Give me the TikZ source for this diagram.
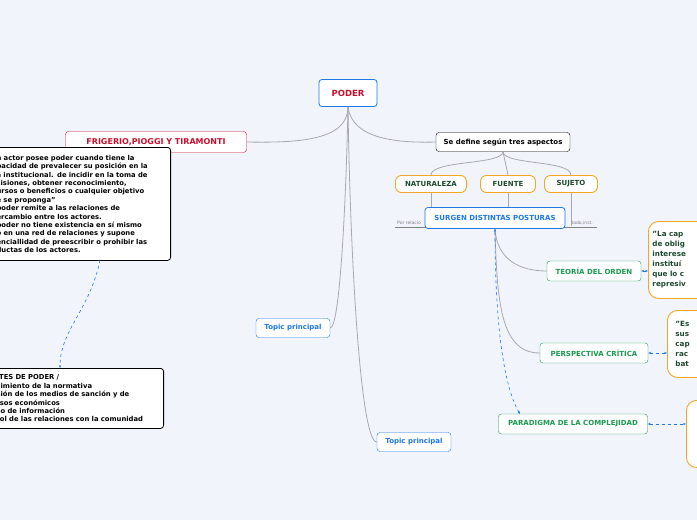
\documentclass[tikz,border=0pt]{standalone}
\usepackage{fontspec}
\setmainfont{DejaVu Sans}
\usetikzlibrary{arrows.meta}
\definecolor{bg}{HTML}{F2F4FC}
\definecolor{pblue}{HTML}{1E78E6}
\definecolor{pred}{HTML}{C8102E}
\definecolor{porange}{HTML}{F5A623}
\definecolor{pgreen}{HTML}{1A9A50}
\definecolor{dgreen}{HTML}{1E4A30}
\definecolor{lgrey}{HTML}{A8A8B0}
\begin{document}
\begin{tikzpicture}[x=1pt,y=-1pt,
 box/.style={draw,rounded corners=3pt,fill=white,font=\fontsize{7}{8}\selectfont\bfseries,inner sep=0pt},
 conn/.style={lgrey,line width=0.8pt},
 dconn/.style={pblue,dashed,line width=0.6pt,-{Stealth[length=3pt]}},
 dboth/.style={pblue,dashed,line width=0.6pt,{Stealth[length=3pt]}-{Stealth[length=3pt]}}]
\useasboundingbox[fill=bg] (0,0) rectangle (697,520);
\begin{scope}
\clip (0,0) rectangle (697,520);
% nodes
\node[box,draw=pblue,line width=0.8pt,text=pred,minimum width=58pt,minimum height=27pt,font=\fontsize{8.5}{9}\selectfont\bfseries] (poder) at (348,93) {PODER};
\node[box,draw=pred,text=pred,minimum width=181pt,minimum height=21pt,font=\fontsize{8}{9}\selectfont\bfseries] (frig) at (156,142) {FRIGERIO,PIOGGI Y TIRAMONTI};
\node[box,draw=black,line width=0.8pt,minimum width=176pt,minimum height=113pt,align=left,anchor=north east,text width=172pt,inner xsep=1pt,font=\fontsize{6.8}{8.4}\selectfont\bfseries] (big) at (171,147)
{n actor posee poder cuando tiene la\\ pacidad de prevalecer su posición en la\\ a institucional. de incidir en la toma de\\ cisiones, obtener reconocimiento,\\ ursos o beneficios o cualquier objetivo\\ e se proponga"\\ poder remite a las relaciones de\\ ercambio entre los actores.\\ poder no tiene existencia en sí mismo\\ o en una red de relaciones y supone\\ enciallidad de preescribir o prohibir las\\ ductas de los actores.};
\node[box,draw=black,line width=0.8pt,minimum width=169pt,minimum height=60pt,align=left,anchor=north east,text width=165pt,inner xsep=1pt,font=\fontsize{6.8}{8.4}\selectfont\bfseries] (fuen) at (164,368)
{ITES DE PODER /\\ cimiento de la normativa\\ sión de los medios de sanción y de\\ rsos económicos\\ so de información\\ rol de las relaciones con la comunidad};
\node[box,draw=black,minimum width=134pt,minimum height=19pt] (def) at (503,142) {Se define según tres aspectos};
\node[box,draw=porange,line width=0.9pt,rounded corners=6pt,text=dgreen,minimum width=71pt,minimum height=17pt] (nat) at (431,184) {NATURALEZA};
\node[box,draw=porange,line width=0.9pt,rounded corners=6pt,text=dgreen,minimum width=55pt,minimum height=17pt] (fue) at (508,184) {FUENTE};
\node[box,draw=porange,line width=0.9pt,rounded corners=6pt,text=dgreen,minimum width=53pt,minimum height=17pt] (suj) at (571,184) {SUJETO};
\coordinate (n1) at (431,226); \coordinate (f1) at (508,226); \coordinate (s1) at (571,226);
\draw[conn] (nat) -- (n1); \draw[conn] (fue) -- (f1); \draw[conn] (suj) -- (s1);
\coordinate (la) at (395,227); \coordinate (lb) at (597,227);
\draw[gray,line width=0.6pt] (la) -- (lb);
\node[font=\fontsize{4.5}{5}\selectfont,text=gray,anchor=south west,inner sep=1pt] (t1) at (396,226) {Por relacio};
\node[font=\fontsize{4.5}{5}\selectfont,text=gray,anchor=south east,inner sep=1pt] (t2) at (594,226) {tado,inst.};
\node[box,draw=pblue,line width=0.8pt,text=pblue,minimum width=140pt,minimum height=21pt] (sur) at (495,218) {SURGEN DISTINTAS POSTURAS};
\node[box,draw=pgreen,text=pgreen,minimum width=94pt,minimum height=20pt] (teo) at (594,271) {TEORÍA DEL ORDEN};
\node[box,draw=pgreen,text=pgreen,minimum width=108pt,minimum height=20pt] (per) at (594,353) {PERSPECTIVA CRÍTICA};
\node[box,draw=pgreen,text=pgreen,minimum width=149pt,minimum height=20pt] (par) at (573,424) {PARADIGMA DE LA COMPLEJIDAD};
\node[box,draw=porange,line width=0.9pt,rounded corners=10pt,text=dgreen,minimum width=70pt,minimum height=77pt,anchor=north west,align=left,text width=64pt,inner xsep=4pt,font=\fontsize{7.2}{10}\selectfont\bfseries] (o1) at (648,221) {"La cap\\de oblig\\interese\\instituí\\que lo c\\represiv};
\node[box,draw=porange,line width=0.9pt,rounded corners=10pt,text=dgreen,minimum width=60pt,minimum height=67pt,anchor=north west,align=left,text width=50pt,inner xsep=8pt,font=\fontsize{7.2}{10}\selectfont\bfseries] (o2) at (667,310) {"Es\\sus\\cap\\rac\\bat};
\node[box,draw=porange,line width=0.9pt,rounded corners=10pt,minimum width=40pt,minimum height=67pt,anchor=north west] (o3) at (686,400) {};
\node[box,draw=pblue,text=pblue,minimum width=74pt,minimum height=19pt] (tp1) at (293,328) {Topic principal};
\node[box,draw=pblue,text=pblue,minimum width=74pt,minimum height=19pt] (tp2) at (414,442) {Topic principal};
\coordinate (bigs) at (100,260);
\coordinate (fuent) at (60,368);
\coordinate (parn) at (520,414);
% connectors
\draw[conn] (poder.south) .. controls (348,140) and (300,143) .. (frig.east);
\draw[conn] (poder.south) .. controls (352,140) and (400,143) .. (def.west);
\draw[conn] (poder.south) .. controls (346,200) and (340,328) .. (tp1.east);
\draw[conn] (poder.south) .. controls (350,250) and (360,442) .. (tp2.west);
\draw[conn] (def.south) .. controls (503,165) and (431,160) .. (nat.north);
\draw[conn] (def.south) -- (fue.north);
\draw[conn] (def.south) .. controls (503,165) and (571,160) .. (suj.north);
\draw[conn] (sur.south) .. controls (497,260) and (520,271) .. (teo.west);
\draw[conn] (sur.south) .. controls (497,300) and (500,353) .. (per.west);
\draw[dboth] (parn) .. controls (500,380) and (495,300) .. (sur.south);
\draw[dconn] (bigs) .. controls (90,310) and (60,330) .. (fuent);
\draw[dboth] (teo.east) -- (o1.west |- teo.east);
\draw[dboth] (per.east) -- (o2.west |- per.east);
\draw[dboth] (par.east) -- (o3.west |- par.east);
\end{scope}
\end{tikzpicture}
\end{document}
